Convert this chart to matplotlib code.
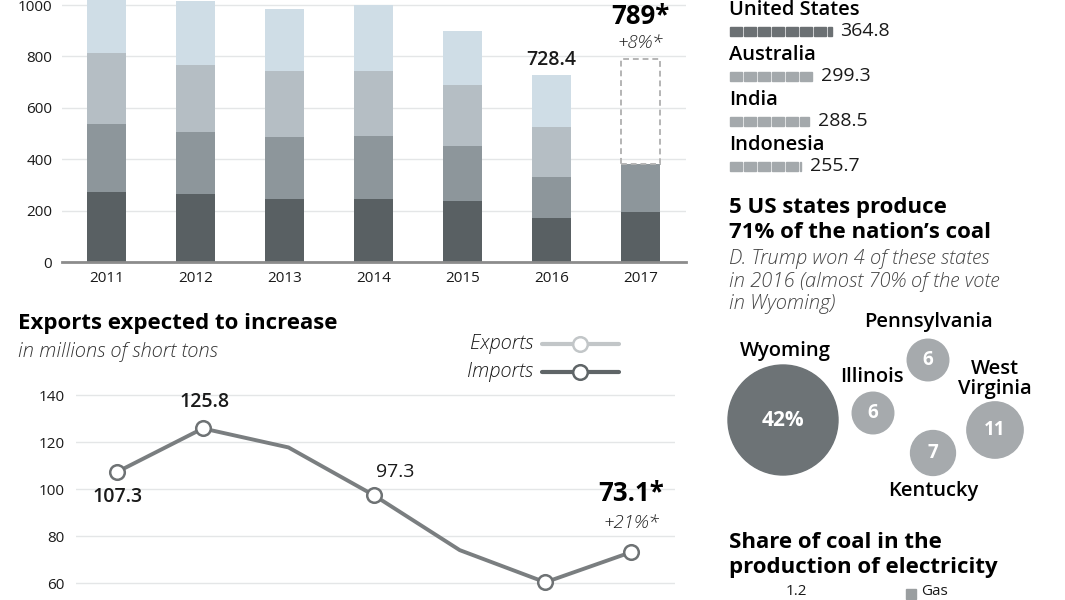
import matplotlib.pyplot as plt
from matplotlib.patches import Circle, Rectangle
import numpy as np

plt.rcParams['font.family'] = ['Open Sans', 'DejaVu Sans']

W, H = 1065, 600

# US coal production by quarter, millions of short tons
years = ['2011', '2012', '2013', '2014', '2015', '2016', '2017']
q1 = [271, 265, 244, 244, 239, 171, 195]
q2 = [265, 241, 244, 246, 212, 161, 188]
q3 = [276, 259, 256, 254, 238, 195, 0]
q4 = [283, 251, 241, 256, 208, 201, 0]
total_2016 = 728.4
forecast_2017 = 789

# exports, millions of short tons
exp_years = ['2011', '2012', '2013', '2014', '2015', '2016', '2017']
exports = [107.3, 125.8, 117.7, 97.3, 74.0, 60.3, 73.1]

# top producers list
countries = ['United States', 'Australia', 'India', 'Indonesia']
country_vals = [364.8, 299.3, 288.5, 255.7]

# share of US coal by state, %
states = ['Wyoming', 'Illinois', 'Pennsylvania', 'Kentucky', 'West Virginia']
state_share = [42, 6, 6, 7, 11]

c_q = ['#596063', '#8d969b', '#b5bec4', '#cfdde6']
grid_c = '#e4e6e7'
txt = '#1a1a1a'

fig = plt.figure(figsize=(W / 100, H / 100), dpi=100)
fig.patch.set_facecolor('white')


def box(l, t, r, b):
    return [l / W, 1 - b / H, (r - l) / W, (b - t) / H]


# ---- stacked bars
ax1 = fig.add_axes(box(62, 0, 686, 262))
x = np.arange(len(years))
bottom = np.zeros(len(years))
for vals, col in zip([q1, q2, q3, q4], c_q):
    ax1.bar(x, vals, 0.44, bottom=bottom, color=col, zorder=2)
    bottom += np.array(vals)
# dashed forecast box
ax1.bar(x[6], forecast_2017 - bottom[6], 0.44, bottom=bottom[6], facecolor='none',
        edgecolor='#b4b4b4', linestyle=(0, (3, 2)), linewidth=1.4, zorder=2)
ax1.set_xlim(-0.502, 6.509)
ax1.set_ylim(0, 1019.5)
ax1.set_yticks([0, 200, 400, 600, 800, 1000])
ax1.set_xticks(x)
ax1.set_xticklabels(years)
ax1.grid(axis='y', color=grid_c, linewidth=1, zorder=0)
for s in ['top', 'right', 'left']:
    ax1.spines[s].set_visible(False)
ax1.spines['bottom'].set_color('#8c8c8c')
ax1.spines['bottom'].set_linewidth(2)
ax1.spines['bottom'].set_zorder(3)
ax1.tick_params(length=0, labelsize=11, colors=txt)
ax1.tick_params(axis='y', pad=7)
ax1.tick_params(axis='x', pad=6.5)
ax1.annotate(f'{total_2016}', (x[5], bottom[5]), xytext=(0, 11), textcoords='offset points',
             ha='center', va='center', fontsize=14, fontweight='semibold', color=txt)
ax1.annotate(f'{forecast_2017}*', (x[6], forecast_2017), xytext=(0, 31), textcoords='offset points',
             ha='center', va='center', fontsize=18.5, fontweight='bold', color='black')
ax1.annotate('+8%*', (x[6], forecast_2017), xytext=(0, 12), textcoords='offset points',
             ha='center', va='center', fontsize=13.5, style='italic', fontweight='light',
             color='#222222')

# ---- exports line
ax2 = fig.add_axes(box(76, 380, 675, 600))
xe = np.arange(len(exp_years))
ax2.plot(xe, exports, color='#7a7e80', linewidth=2.8, zorder=3, solid_capstyle='round')
mk = [0, 1, 3, 5, 6]
ax2.plot(xe[mk], np.array(exports)[mk], 'o', ms=10.5, mfc='white', mec='#6e7274',
         mew=1.8, zorder=4)
ax2.set_xlim(-0.482, 6.515)
ax2.set_ylim(52.77, 146.4)
ax2.set_yticks([60, 80, 100, 120, 140])
ax2.set_xticks([])
ax2.grid(axis='y', color=grid_c, linewidth=1, zorder=0)
for s in ax2.spines.values():
    s.set_visible(False)
ax2.tick_params(length=0, labelsize=11, colors=txt, pad=8)
ax2.annotate('107.3', (0, exports[0]), xytext=(0, -18), textcoords='offset points',
             ha='center', va='center', fontsize=14, fontweight='semibold', color=txt)
ax2.annotate('125.8', (1, exports[1]), xytext=(1, 19), textcoords='offset points',
             ha='center', va='center', fontsize=14, fontweight='semibold', color=txt)
ax2.annotate('97.3', (3, exports[3]), xytext=(15, 17), textcoords='offset points',
             ha='center', va='center', fontsize=14, color=txt)
ax2.annotate('73.1*', (6, exports[6]), xytext=(0, 42), textcoords='offset points',
             ha='center', va='center', fontsize=18.5, fontweight='bold', color='black')
ax2.annotate('+21%*', (6, exports[6]), xytext=(0, 21), textcoords='offset points',
             ha='center', va='center', fontsize=13.5, style='italic', fontweight='light',
             color='#222222')

# ---- overlay for free text / right panel
ov = fig.add_axes([0, 0, 1, 1], zorder=5)
ov.set_xlim(0, W)
ov.set_ylim(H, 0)
ov.axis('off')
ov.patch.set_alpha(0)

ov.text(18, 324, 'Exports expected to increase', fontsize=16, fontweight='bold',
        color='black', va='center')
ov.text(18, 352, 'in millions of short tons', fontsize=14.5, style='italic', fontweight='light',
        color='#333333', va='center')
for lab, yy, lc in [('Exports', 344, '#c2c6c8'), ('Imports', 372, '#5f6567')]:
    ov.text(533, yy, lab, fontsize=14.5, style='italic', fontweight='light', color=txt,
            ha='right', va='center')
    ov.plot([542, 619], [yy, yy], color=lc, lw=3, solid_capstyle='round')
    ov.plot(580, yy, 'o', ms=10.5, mfc='white', mec=lc, mew=1.8)

# producers list
for i, (c, v) in enumerate(zip(countries, country_vals)):
    ly = 10 + 45 * i
    by = 31 + 45 * i
    col = '#6b7073' if i == 0 else '#a4a9ac'
    ov.text(729, ly, c, fontsize=14.5, fontweight='semibold', color='black', va='center')
    full = int(v // 50)
    frac = (v % 50) / 50
    for k in range(full):
        ov.add_patch(Rectangle((730 + 14 * k, by - 4.5), 12, 9, color=col))
    end = 730 + 14 * full
    if frac > 0:
        ov.add_patch(Rectangle((end, by - 4.5), 12 * frac, 9, color=col))
        end += 12 * frac
    ov.text(end + 9, by, f'{v}', fontsize=14, color=txt, va='center')

ov.text(729, 207, '5 US states produce', fontsize=16, fontweight='bold', color='black',
        va='center')
ov.text(729, 232, '71% of the nation\u2019s coal', fontsize=16, fontweight='bold', color='black',
        va='center')
for j, line in enumerate(['D. Trump won 4 of these states', 'in 2016 (almost 70% of the vote',
                          'in Wyoming)']):
    ov.text(729, 259 + 22.5 * j, line, fontsize=14.5, style='italic', fontweight='light',
            color='#444444', va='center')

centers = [(783, 420), (873, 413), (928, 360), (933, 453), (995, 430)]
label_pos = [(785, 351), (872, 377), (928, 322), (933, 491), (995, 379)]
for k, (st, sh) in enumerate(zip(states, state_share)):
    r = 55 * np.sqrt(sh / state_share[0])
    col = '#6d7376' if k == 0 else '#a6aaad'
    ov.add_patch(Circle(centers[k], r, color=col))
    t = f'{sh}%' if k == 0 else f'{sh}'
    ov.text(centers[k][0], centers[k][1], t, color='white', fontsize=15 if k == 0 else 13.5,
            fontweight='bold', ha='center', va='center')
    name = 'West\nVirginia' if st == 'West Virginia' else st
    ov.text(label_pos[k][0], label_pos[k][1], name, fontsize=14.5, fontweight='semibold',
            color='black', ha='center', va='center', linespacing=1.0)

ov.text(729, 542, 'Share of coal in the', fontsize=16, fontweight='bold', color='black',
        va='center')
ov.text(729, 567, 'production of electricity', fontsize=16, fontweight='bold', color='black',
        va='center')
ov.text(796, 599, '1.2', fontsize=11, color=txt, ha='center', va='bottom')
ov.add_patch(Rectangle((906, 589), 10, 10, color='#9a9ea0'))
ov.text(921, 599, 'Gas', fontsize=11, color=txt, va='bottom')

fig.savefig('out.png', dpi=100)
